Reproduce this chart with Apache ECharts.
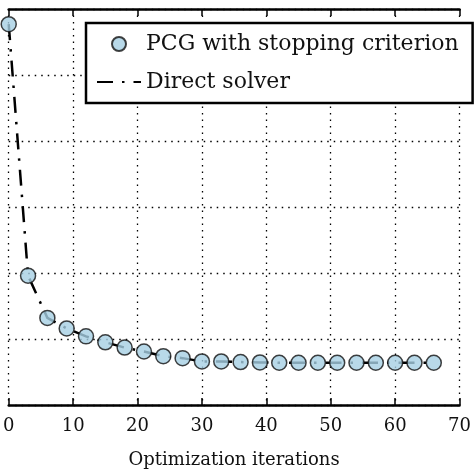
<!DOCTYPE html>
<html><head><meta charset="utf-8">
<script src="https://cdn.jsdelivr.net/npm/echarts@6/dist/echarts.min.js"></script>
<style>html,body{margin:0;padding:0;background:#fff;overflow:hidden}#c{width:474px;height:474px}</style>
</head><body><div id="c"></div>
<script>
const iterations = [0,3,6,9,12,15,18,21,24,27,30,33,36,39,42,45,48,51,54,57,60,63,66];
const pcgValues = [5.77,1.96,1.32,1.16,1.04,0.95,0.87,0.81,0.74,0.71,0.66,0.66,0.65,0.645,0.64,0.64,0.64,0.64,0.64,0.64,0.64,0.64,0.64];
const directValues = [5.77,1.96,1.32,1.16,1.04,0.95,0.87,0.81,0.74,0.71,0.66,0.66,0.65,0.645,0.64,0.64,0.64,0.64,0.64,0.64,0.64,0.64,0.64];
const font = '"DejaVu Serif", "Liberation Serif", serif';
const chart = echarts.init(document.getElementById('c'));
const pair = a => iterations.map((x,i)=>[x,a[i]]);
chart.setOption({
  animation:false,
  grid:{left:0,top:9,right:-66,bottom:67},
  xAxis:[{type:'value',min:0,max:70,interval:10,position:'bottom',
    axisLine:{lineStyle:{color:'#000',width:2.5}},
    axisTick:{inside:true,length:7,lineStyle:{color:'#000',width:1.5}},
    axisLabel:{color:'#111',fontFamily:font,fontSize:18,margin:12},
    splitLine:{show:true,lineStyle:{color:'#000',type:[1.5,5],width:1.3}},
    name:'Optimization iterations',nameLocation:'middle',nameGap:46,
    nameTextStyle:{color:'#111',fontFamily:font,fontSize:18}},
   {type:'value',min:0,max:70,interval:10,position:'top',
    axisLine:{lineStyle:{color:'#000',width:2.5}},
    axisTick:{inside:true,length:7,lineStyle:{color:'#000',width:1.5}},
    axisLabel:{show:false},splitLine:{show:false}}],
  yAxis:{type:'value',min:0,max:6,interval:1,
    axisLine:{show:false},axisTick:{show:false},axisLabel:{show:false},
    splitLine:{show:true,lineStyle:{color:'#000',type:[1.5,5],width:1.3}}},
  legend:{orient:'vertical',left:86,top:23,itemWidth:44,itemHeight:14,itemGap:16,
    padding:[10,14,10,10],backgroundColor:'#fff',borderColor:'#000',borderWidth:2.5,
    textStyle:{color:'#111',fontFamily:font,fontSize:22},
    data:['PCG with stopping criterion',{name:'Direct solver',itemStyle:{opacity:0}}]},
  series:[
    {name:'Direct solver',type:'line',data:pair(directValues),symbol:'none',z:2,
     lineStyle:{color:'#000',width:2.5,type:[16,9,2.5,9]},itemStyle:{color:'#000'}},
    {name:'PCG with stopping criterion',type:'scatter',data:pair(pcgValues),symbolSize:15,z:3,
     itemStyle:{color:'#a6cfe4',borderColor:'#111',borderWidth:1.5}}
  ]
});
</script></body></html>
